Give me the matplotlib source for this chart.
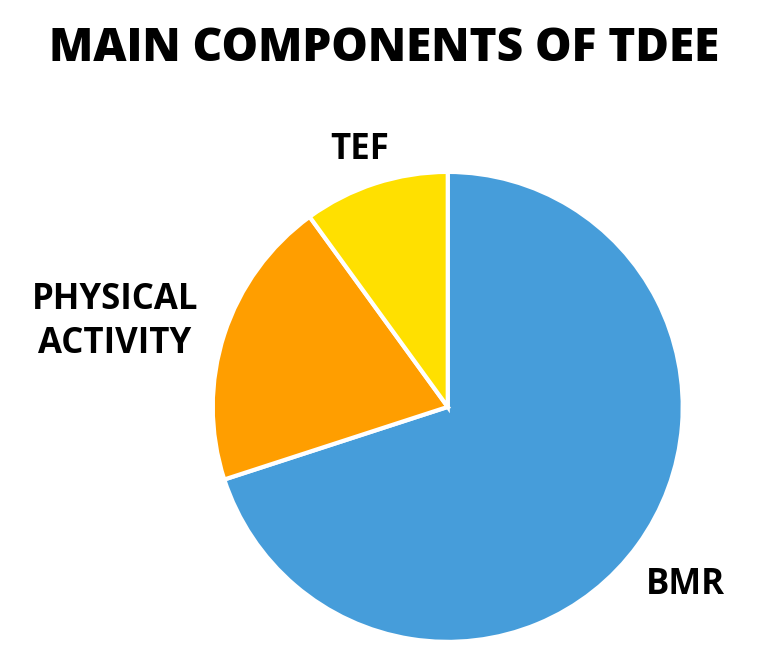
import matplotlib
matplotlib.use("Agg")
import matplotlib.pyplot as plt

labels = ["BMR", "PHYSICAL\nACTIVITY", "TEF"]
values = [70, 20, 10]
colors = ["#469DDA", "#FF9E00", "#FFE000"]
# label positions in figure pixels (x, y from top)
label_pos = [(685, 585), (115, 322), (360, 150)]

plt.rcParams["font.family"] = ["Open Sans", "DejaVu Sans"]

fig = plt.figure(figsize=(7.68, 6.5), dpi=100)
ax = fig.add_axes([0.277, 0.0125, 0.612, 0.723])
ax.pie(values, colors=colors, startangle=90, counterclock=False,
       wedgeprops=dict(edgecolor="white", linewidth=3))
ax.set_xlim(-1, 1)
ax.set_ylim(-1, 1)
ax.set_aspect("equal")

fig.text(0.5, 0.925, "MAIN COMPONENTS OF TDEE", ha="center", va="center",
         fontsize=33, fontweight="heavy")
for lab, (px, py) in zip(labels, label_pos):
    fig.text(px / 768, 1 - py / 650, lab, ha="center", va="center",
             fontsize=25, fontweight="bold", linespacing=1.3)

fig.savefig("out.png", dpi=100, facecolor="white")
